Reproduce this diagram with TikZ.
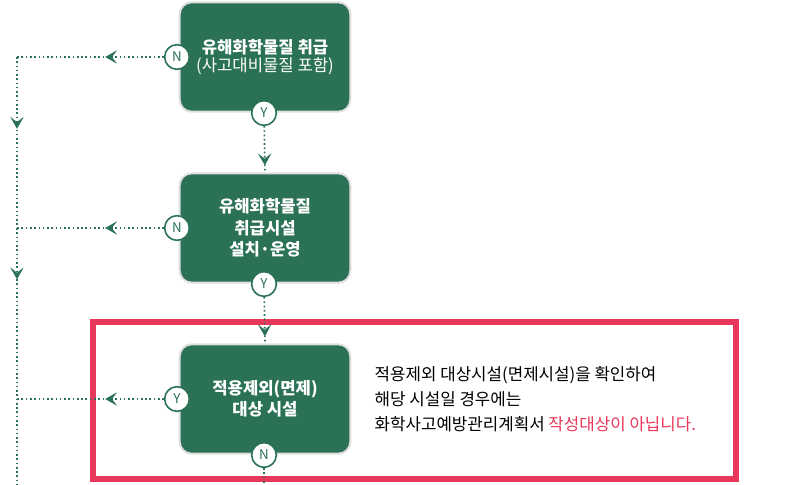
\documentclass[tikz,border=0pt]{standalone}
\usepackage{fontspec}
\setmainfont{Noto Sans CJK KR}
\usetikzlibrary{arrows.meta,decorations.markings}
\definecolor{gr}{HTML}{2A7155}
\definecolor{rd}{HTML}{E8375A}
\begin{document}
\begin{tikzpicture}[x=0.75pt,y=-0.75pt,
 box/.style={draw=gray!25,line width=1.5pt,fill=gr,rounded corners=9pt,minimum width=128pt,minimum height=82pt,text=white,font=\bfseries\fontsize{12.5}{16}\selectfont,align=center,inner sep=0pt},
 badge/.style={circle,draw=gr,fill=white,line width=1.2pt,minimum size=18.5pt,inner sep=0pt,text=gr,font=\fontsize{10}{10}\selectfont},
 dl/.style={gr,dotted,line width=1.2pt},
 midarr/.style={dl,postaction={decorate},decoration={markings,mark=at position #1 with {\arrow[gr,solid]{Stealth[length=9pt,width=10pt,inset=4pt]}}}}]
\useasboundingbox (0,0) rectangle (800,485);
\fill[white] (0,0) rectangle (800,485);
\draw[rd,line width=4.5pt] (93,322) rectangle (736,479);
\node[box] (b1) at (265,57) {유해화학물질 취급\\[-2pt]{\mdseries(사고대비물질 포함)}};
\node[box] (b2) at (265,228) {유해화학물질\\취급시설\\설치·운영};
\node[box] (b3) at (265,399) {적용제외(면제)\\대상 시설};
\node[badge] (n1) at (177,57) {N};
\node[badge] (y1) at (264,113) {Y};
\node[badge] (n2) at (177,228) {N};
\node[badge] (y2) at (264,284) {Y};
\node[badge] (y3) at (177,399) {Y};
\node[badge] (n3) at (264,455) {N};
\coordinate (l1) at (17,57);
\coordinate (l2) at (17,228);
\coordinate (l3) at (17,399);
\coordinate (lb) at (17,485);
\coordinate (nb) at (264,485);
\draw[midarr=0.4] (n1) -- (l1);
\draw[midarr=0.4] (n2) -- (l2);
\draw[midarr=0.4] (y3) -- (l3);
\draw[midarr=0.42] (l1) -- (l2);
\draw[midarr=0.2] (l2) -- (lb);
\draw[midarr=0.85] (y1) -- (b2.north);
\draw[midarr=0.85] (y2) -- (b3.north);
\draw[dl] (n3) -- (nb);
\node[anchor=west,align=left,font=\fontsize{12.6}{19}\selectfont] (t) at (370,399) {적용제외 대상시설(면제시설)을 확인하여\\해당 시설일 경우에는\\화학사고예방관리계획서 {\color{rd}작성대상이 아닙니다.}};
\end{tikzpicture}
\end{document}
